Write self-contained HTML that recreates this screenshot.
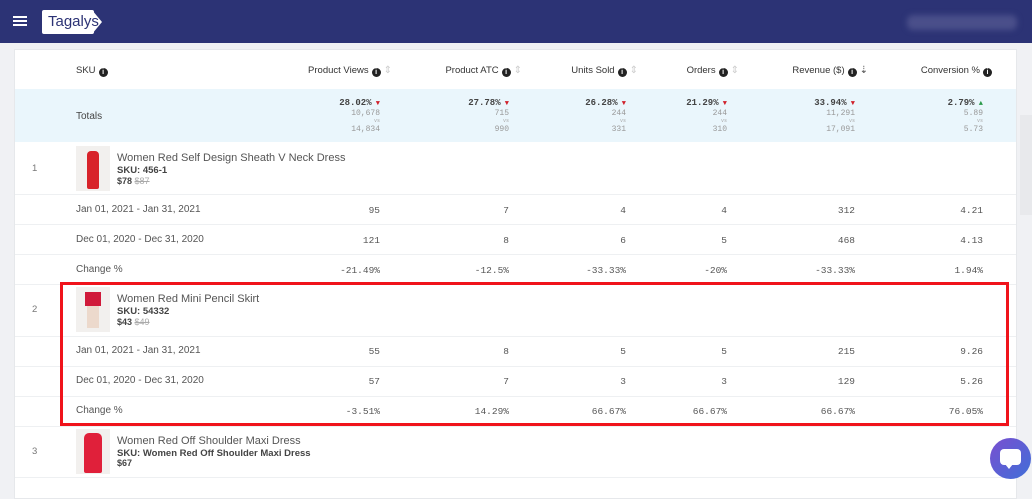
<!DOCTYPE html>
<html><head><meta charset="utf-8"><style>
*{margin:0;padding:0;box-sizing:border-box}
body{width:1032px;height:489px;overflow:hidden;background:#f0f1f4;font-family:"Liberation Sans",sans-serif;position:relative;color:#444}
.a{position:absolute}
.hdr{left:0;top:0;width:1032px;height:43px;background:#2c3375}
.card{left:14px;top:49px;width:1003px;height:450px;background:#fff;border:1px solid #e6e8eb}
.th{font-size:9.5px;color:#333;top:65px;white-space:nowrap}
.i{display:inline-block;width:9px;height:9px;border-radius:50%;background:#222;color:#fff;font-size:7px;line-height:9px;text-align:center;font-weight:bold;vertical-align:-1px;margin-left:3px}
.srt{color:#ccc;font-size:10px;margin-left:3px}
.r{text-align:right;white-space:nowrap}
.mono{font-family:"Liberation Mono",monospace}
.tot{font-size:9px;font-weight:bold;color:#444}
.sub{font-size:8px;color:#999;line-height:11px}
.vs{font-size:5px;color:#aaa;line-height:5px}
.dn{color:#d0202a;font-size:7px}
.up{color:#2a9a4a;font-size:7px}
.line{left:15px;width:1001px;height:1px;background:#eef0f2}
.lbl{left:76px;font-size:10px;color:#555}
.val{font-size:9.5px;color:#555}
.img{left:76px;width:34px;height:45px;background:#f2f0ee}
.pn{left:117px;font-size:11px;color:#555}
.sku{left:117px;font-size:9.5px;font-weight:bold;color:#444}
.pr{left:117px;font-size:9px;font-weight:bold;color:#444}
.num{left:32px;font-size:9.5px;color:#777}
</style></head><body>
<div class="a hdr"></div>
<div class="a" style="left:13px;top:16px;width:14px;height:2px;background:#fff"></div>
<div class="a" style="left:13px;top:20px;width:14px;height:2px;background:#fff"></div>
<div class="a" style="left:13px;top:24px;width:14px;height:2px;background:#fff"></div>
<div class="a" style="left:42px;top:10px;width:52px;height:24px;background:#fff;border-radius:2px"></div>
<div class="a" style="left:92px;top:10px;width:0;height:0;border-top:12px solid transparent;border-bottom:12px solid transparent;border-left:10px solid #fff"></div>
<div class="a" style="left:48px;top:13px;font-size:15px;color:#2c3375">Tagalys</div>
<div class="a" style="left:907px;top:15px;width:110px;height:15px;background:#4a4f8a;border-radius:6px;filter:blur(3px)"></div>
<div class="a card"></div>
<div class="a" style="left:1020px;top:115px;width:12px;height:100px;background:#e8e9ec"></div>
<div class="a th" style="left:76px">SKU<span class="i">i</span></div>
<div class="a th r" style="right:640px">Product Views<span class="i">i</span><span class="srt">⇕</span></div>
<div class="a th r" style="right:510px">Product ATC<span class="i">i</span><span class="srt">⇕</span></div>
<div class="a th r" style="right:394px">Units Sold<span class="i">i</span><span class="srt">⇕</span></div>
<div class="a th r" style="right:293px">Orders<span class="i">i</span><span class="srt">⇕</span></div>
<div class="a th r" style="right:164px">Revenue ($)<span class="i">i</span><span class="srt" style="color:#555">⇣</span></div>
<div class="a th r" style="right:40px">Conversion %<span class="i">i</span></div>
<div class="a" style="left:15px;top:89px;width:1001px;height:53px;background:#eaf6fc"></div>
<div class="a" style="left:76px;top:111px;font-size:10px;color:#444">Totals</div>
<div class="a r mono" style="right:652px;top:98px"><div class="tot">28.02%<span class="dn"> ▼</span></div><div class="sub">10,678</div><div class="vs">vs</div><div class="sub">14,834</div></div>
<div class="a r mono" style="right:523px;top:98px"><div class="tot">27.78%<span class="dn"> ▼</span></div><div class="sub">715</div><div class="vs">vs</div><div class="sub">990</div></div>
<div class="a r mono" style="right:406px;top:98px"><div class="tot">26.28%<span class="dn"> ▼</span></div><div class="sub">244</div><div class="vs">vs</div><div class="sub">331</div></div>
<div class="a r mono" style="right:305px;top:98px"><div class="tot">21.29%<span class="dn"> ▼</span></div><div class="sub">244</div><div class="vs">vs</div><div class="sub">310</div></div>
<div class="a r mono" style="right:177px;top:98px"><div class="tot">33.94%<span class="dn"> ▼</span></div><div class="sub">11,291</div><div class="vs">vs</div><div class="sub">17,091</div></div>
<div class="a r mono" style="right:49px;top:98px"><div class="tot">2.79%<span class="up"> ▲</span></div><div class="sub">5.89</div><div class="vs">vs</div><div class="sub">5.73</div></div>

<div class="a num" style="top:163px">1</div>
<div class="a img" style="top:146px"><div style="position:absolute;left:11px;top:5px;width:12px;height:38px;background:#d8232a;border-radius:4px 4px 2px 2px"></div></div>
<div class="a pn" style="top:152px">Women Red Self Design Sheath V Neck Dress</div>
<div class="a sku" style="top:165px">SKU: 456-1</div>
<div class="a pr" style="top:176px">$78 <span style="color:#aaa;font-weight:normal;text-decoration:line-through">$87</span></div>
<div class="a line" style="top:194px"></div>
<div class="a line" style="top:224px"></div>
<div class="a line" style="top:254px"></div>
<div class="a line" style="top:284px"></div>

<div class="a num" style="top:304px">2</div>
<div class="a img" style="top:287px"><div style="position:absolute;left:9px;top:5px;width:16px;height:14px;background:#d01a3a"></div><div style="position:absolute;left:11px;top:19px;width:12px;height:22px;background:#ecd9cc"></div></div>
<div class="a pn" style="top:293px">Women Red Mini Pencil Skirt</div>
<div class="a sku" style="top:306px">SKU: 54332</div>
<div class="a pr" style="top:317px">$43 <span style="color:#aaa;font-weight:normal;text-decoration:line-through">$49</span></div>
<div class="a line" style="top:336px"></div>
<div class="a line" style="top:366px"></div>
<div class="a line" style="top:396px"></div>
<div class="a line" style="top:426px"></div>
<div class="a line" style="top:477px"></div>

<div class="a num" style="top:446px">3</div>
<div class="a img" style="top:429px"><div style="position:absolute;left:8px;top:4px;width:18px;height:40px;background:#e0203a;border-radius:5px 5px 2px 2px"></div></div>
<div class="a pn" style="top:435px">Women Red Off Shoulder Maxi Dress</div>
<div class="a sku" style="top:448px">SKU: Women Red Off Shoulder Maxi Dress</div>
<div class="a pr" style="top:458px">$67</div>

<div class="a lbl" style="top:204px">Jan 01, 2021 - Jan 31, 2021</div>
<div class="a lbl" style="top:234px">Dec 01, 2020 - Dec 31, 2020</div>
<div class="a lbl" style="top:264px">Change %</div>
<div class="a lbl" style="top:345px">Jan 01, 2021 - Jan 31, 2021</div>
<div class="a lbl" style="top:375px">Dec 01, 2020 - Dec 31, 2020</div>
<div class="a lbl" style="top:405px">Change %</div>

<div class="a mono val r" style="right:652px;top:205px">95</div>
<div class="a mono val r" style="right:523px;top:205px">7</div>
<div class="a mono val r" style="right:406px;top:205px">4</div>
<div class="a mono val r" style="right:305px;top:205px">4</div>
<div class="a mono val r" style="right:177px;top:205px">312</div>
<div class="a mono val r" style="right:49px;top:205px">4.21</div>

<div class="a mono val r" style="right:652px;top:235px">121</div>
<div class="a mono val r" style="right:523px;top:235px">8</div>
<div class="a mono val r" style="right:406px;top:235px">6</div>
<div class="a mono val r" style="right:305px;top:235px">5</div>
<div class="a mono val r" style="right:177px;top:235px">468</div>
<div class="a mono val r" style="right:49px;top:235px">4.13</div>

<div class="a mono val r" style="right:652px;top:265px">-21.49%</div>
<div class="a mono val r" style="right:523px;top:265px">-12.5%</div>
<div class="a mono val r" style="right:406px;top:265px">-33.33%</div>
<div class="a mono val r" style="right:305px;top:265px">-20%</div>
<div class="a mono val r" style="right:177px;top:265px">-33.33%</div>
<div class="a mono val r" style="right:49px;top:265px">1.94%</div>

<div class="a mono val r" style="right:652px;top:346px">55</div>
<div class="a mono val r" style="right:523px;top:346px">8</div>
<div class="a mono val r" style="right:406px;top:346px">5</div>
<div class="a mono val r" style="right:305px;top:346px">5</div>
<div class="a mono val r" style="right:177px;top:346px">215</div>
<div class="a mono val r" style="right:49px;top:346px">9.26</div>

<div class="a mono val r" style="right:652px;top:376px">57</div>
<div class="a mono val r" style="right:523px;top:376px">7</div>
<div class="a mono val r" style="right:406px;top:376px">3</div>
<div class="a mono val r" style="right:305px;top:376px">3</div>
<div class="a mono val r" style="right:177px;top:376px">129</div>
<div class="a mono val r" style="right:49px;top:376px">5.26</div>

<div class="a mono val r" style="right:652px;top:406px">-3.51%</div>
<div class="a mono val r" style="right:523px;top:406px">14.29%</div>
<div class="a mono val r" style="right:406px;top:406px">66.67%</div>
<div class="a mono val r" style="right:305px;top:406px">66.67%</div>
<div class="a mono val r" style="right:177px;top:406px">66.67%</div>
<div class="a mono val r" style="right:49px;top:406px">76.05%</div>

<div class="a" style="left:60px;top:282px;width:949px;height:144px;border:3px solid #f0131b"></div>

<div class="a" style="left:990px;top:438px;width:41px;height:41px;border-radius:50%;background:linear-gradient(135deg,#7a4fd0,#3f6fd8)"></div>
<div class="a" style="left:1000px;top:449px;width:21px;height:16px;background:#fff;border-radius:4px"></div>
<div class="a" style="left:1005px;top:464px;width:0;height:0;border-left:4px solid transparent;border-right:4px solid transparent;border-top:5px solid #fff"></div>
</body></html>
